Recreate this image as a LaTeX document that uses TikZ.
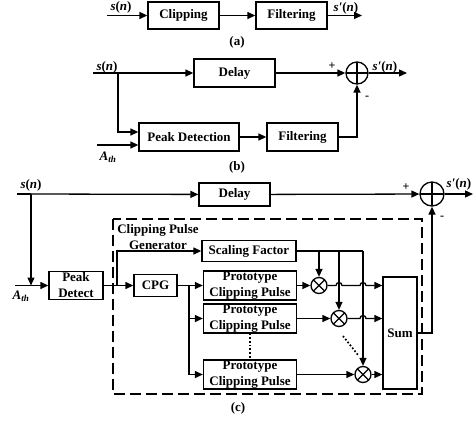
\documentclass[tikz,border=0pt]{standalone}
\usepackage{fontspec}
\setmainfont{Liberation Serif}
\usetikzlibrary{arrows.meta}

\begin{document}
\begin{tikzpicture}[x=1pt, y=-1pt, line width=1.3pt,
        every node/.style={font=\bfseries\fontsize{13}{16}\selectfont},
        blk/.style={draw, rectangle, inner sep=0pt, align=center},
        proto/.style={blk, minimum width=93pt, minimum height=29pt},
        adder/.style={draw, circle, inner sep=0pt, minimum size=22pt,
            path picture={\draw (path picture bounding box.north) -- (path picture bounding box.south)
                (path picture bounding box.west) -- (path picture bounding box.east);}},
        mult/.style={draw, circle, inner sep=0pt, minimum size=16pt,
            path picture={\draw (path picture bounding box.north west) -- (path picture bounding box.south east)
                (path picture bounding box.north east) -- (path picture bounding box.south west);}},
        arr/.style={-{Triangle[length=8pt,width=7pt]}},
        sig/.style={font=\bfseries\itshape\fontsize{13}{16}\selectfont},
        sgn/.style={font=\bfseries\fontsize{12}{12}\selectfont, inner sep=1pt}]
    \useasboundingbox (0,0) rectangle (474,440);

    % (a)
    \node[blk, minimum width=71pt, minimum height=27pt] (clip) at (183.5,15.5) {Clipping};
    \node[blk, minimum width=71pt, minimum height=27pt] (filta) at (291.5,15.5) {Filtering};
    \coordinate (ina) at (107,15.5);
    \coordinate (outa) at (362,15.5);
    \draw[arr] (ina) -- (clip);
    \draw[arr] (clip) -- (filta);
    \draw[arr] (filta) -- (outa);
    \node[sig] (sna) at (121,7.5) {s\textup{(}n\textup{)}};
    \node[sig] (soa) at (346,8) {s′\textup{(}n\textup{)}};
    \node (capa) at (237,42) {(a)};

    % (b)
    \node[blk, minimum width=81pt, minimum height=28pt] (dlyb) at (234.5,73) {Delay};
    \node[adder] (addb) at (357,73) {};
    \node[blk, minimum width=100pt, minimum height=28pt] (pdb) at (189,137) {Peak Detection};
    \node[blk, minimum width=71pt, minimum height=28pt] (filtb) at (302.5,137) {Filtering};
    \coordinate (inb) at (93,73);
    \coordinate (brb) at (118,73);
    \coordinate (athb) at (97,145);
    \coordinate (outb) at (407,73);
    \draw (inb) -- (brb);
    \draw[arr] (brb) -- (dlyb);
    \draw[arr] (dlyb) -- (addb);
    \draw[arr] (addb) -- (outb);
    \draw[arr] (brb) |- ([yshift=5pt]pdb.west);
    \draw[arr] (athb) -- (athb -| pdb.west);
    \draw[arr] (pdb) -- (filtb);
    \draw[arr] (filtb) -| (addb);
    \node[sig] (snb) at (107,67) {s\textup{(}n\textup{)}};
    \node[sig] (sob) at (385,67) {s′\textup{(}n\textup{)}};
    \node[sig] (athlb) at (108,157) {A\textsubscript{th}};
    \node[sgn] (plb) at (332,66) {+};
    \node[sgn] (mnb) at (367,98) {-};
    \node (capb) at (237,167) {(b)};

    % (c)
    \node[blk, minimum width=71pt, minimum height=23pt] (dlyc) at (234.5,194.5) {Delay};
    \node[adder, minimum size=24pt] (addc) at (432,194) {};
    \node[blk, minimum width=54pt, minimum height=28pt] (pdet) at (76,285.5) {Peak\\Detect};
    \node[blk, minimum width=43pt, minimum height=22pt] (cpg) at (155.5,285.5) {CPG};
    \node[blk, minimum width=94pt, minimum height=21pt] (scl) at (249,251) {Scaling Factor};
    \node[proto] (pp1) at (250,285.5) {Prototype\\Clipping Pulse};
    \node[proto] (pp2) at (250,318.5) {Prototype\\Clipping Pulse};
    \node[proto] (pp3) at (250,374.5) {Prototype\\Clipping Pulse};
    \node[mult] (m1) at (319,285.5) {};
    \node[mult] (m2) at (339,318.5) {};
    \node[mult] (m3) at (363,374.5) {};
    \node[blk, minimum width=34pt, minimum height=112pt] (sum) at (400,333) {Sum};
    \node[align=center] (cpgen) at (158,237) {Clipping Pulse\\Generator};

    \coordinate (inc) at (17,194);
    \coordinate (brc) at (31,194);
    \coordinate (outc) at (473,194);
    \coordinate (athc) at (15,285.5);
    \coordinate (jnc) at (31,285.5);
    \coordinate (spl) at (117,285.5);
    \coordinate (fan) at (189,285.5);
    \coordinate (d1) at (m1 |- scl);
    \coordinate (d2) at (m2 |- scl);
    \coordinate (d3) at (m3 |- scl);
    \coordinate (x12) at (d2 |- m1);
    \coordinate (x13) at (d3 |- m1);
    \coordinate (x23) at (d3 |- m2);
    \coordinate (dta) at (343,336);
    \coordinate (dtb) at (358,355);

    \draw (inc) -- (brc);
    \draw[arr] (brc) -- (dlyc);
    \draw[arr] (dlyc) -- (addc);
    \draw[arr] (addc) -- (outc);
    \draw[arr] (brc) -- (jnc);
    \draw[arr] (athc) -- (pdet);
    \draw (pdet) -- (spl);
    \draw[arr] (spl) -- (cpg);
    \draw[arr] (spl) |- (scl);
    \draw (cpg) -- (fan);
    \draw[arr] (fan) -- (pp1);
    \draw[arr] (fan) |- (pp2);
    \draw[arr] (fan) |- (pp3);
    \draw (scl) -- (d3);
    \draw[arr] (d1) -- (m1);
    \draw[arr] (d2) -- (m2);
    \draw[arr] (d3) -- (m3);
    \draw[arr] (pp1) -- (m1);
    \draw[arr] (pp2) -- (m2);
    \draw[arr] (pp3) -- (m3);
    \draw[arr] (m1) -- ([xshift=-3pt]x12) arc[start angle=180, end angle=0, radius=3pt]
        -- ([xshift=-3pt]x13) arc[start angle=180, end angle=0, radius=3pt] -- (m1 -| sum.west);
    \draw[arr] (m2) -- ([xshift=-3pt]x23) arc[start angle=180, end angle=0, radius=3pt] -- (m2 -| sum.west);
    \draw[arr] (m3) -- (m3 -| sum.west);
    \draw[arr] (sum) -| (addc);
    \draw[dotted, line width=1.7pt] (pp2) -- (pp3);
    \draw[dotted, line width=1.7pt] (dta) -- (dtb);
    \draw[line width=1.1pt, dash pattern=on 11pt off 5pt] (113,219) rectangle (422,394);

    \node[sig] (snc) at (31,185.5) {s\textup{(}n\textup{)}};
    \node[sig] (soc) at (459,184) {s′\textup{(}n\textup{)}};
    \node[sig] (athlc) at (21,296) {A\textsubscript{th}};
    \node[sgn] (plc) at (406,187) {+};
    \node[sgn] (mnc) at (442,218) {-};
    \node (capc) at (238,408) {(c)};
\end{tikzpicture}
\end{document}
